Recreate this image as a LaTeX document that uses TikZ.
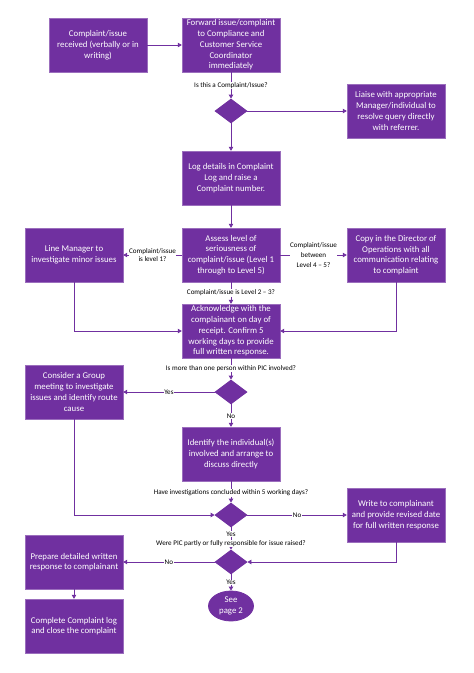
\documentclass[tikz,border=0pt]{standalone}
\usepackage{fontspec}
\setmainfont{Carlito}
\usetikzlibrary{shapes.geometric,arrows.meta}
\definecolor{pic}{HTML}{7030A0}
\begin{document}
\begin{tikzpicture}[x=1pt, y=-1pt, line width=0.8pt,
		stepbox/.style={rectangle, fill=pic, draw=pic!70, line width=0.4pt, minimum width=98pt, minimum height=54pt, inner sep=1pt, align=center, text=white, font=\fontsize{8.8}{10.7}\selectfont},
		choice/.style={diamond, fill=pic, draw=pic, minimum width=32pt, minimum height=24pt, inner sep=0pt},
		flow/.style={draw=pic, -{Triangle[width=4.5pt,length=4pt]}},
		ask/.style={fill=white, inner sep=0.5pt, text=black, align=center, font=\fontsize{7.1}{8.6}\selectfont}]
		\useasboundingbox (0,0) rectangle (474,673);
		\node[stepbox](received) at (98,45){Complaint/issue\\received (verbally or in\\writing)};
		\node[stepbox](forward) at (231,45){Forward issue/complaint\\to Compliance and\\Customer Service\\Coordinator\\immediately};
		\node[choice](isissue) at (231,111){};
		\node[stepbox](liaise) at (396,111){Liaise with appropriate\\Manager/individual to\\resolve query directly\\with referrer.};
		\node[stepbox](logdetails) at (231,178){Log details in Complaint\\Log and raise a\\Complaint number.};
		\node[stepbox](assess) at (231,255){Assess level of\\seriousness of\\complaint/issue (Level 1\\through to Level 5)};
		\node[stepbox](linemanager) at (74,255){Line Manager to\\investigate minor issues};
		\node[stepbox](director) at (396,255){Copy in the Director of\\Operations with all\\communication relating\\to complaint};
		\node[stepbox](acknowledge) at (231,331){Acknowledge with the\\complainant on day of\\receipt. Confirm 5\\working days to provide\\full written response.};
		\node[choice](morethanone) at (231,392){};
		\node[stepbox](group) at (74,392){Consider a Group\\meeting to investigate\\issues and identify route\\cause};
		\node[stepbox](identify) at (231,454){Identify the individual(s)\\involved and arrange to\\discuss directly};
		\node[choice](concluded) at (231,515){};
		\node[stepbox](revised) at (396,515){Write to complainant\\and provide revised date\\for full written response};
		\node[choice](responsible) at (231,562){};
		\node[stepbox](prepare) at (74,562){Prepare detailed written\\response to complainant};
		\node[ellipse, fill=pic, draw=pic, minimum width=45pt, minimum height=30pt, inner sep=0pt, align=center, text=white, font=\fontsize{8.8}{10.7}\selectfont](pagetwo) at (231,606){See\\page 2};
		\node[stepbox](close) at (74,626){Complete Complaint log\\and close the complaint};

		\draw [flow] (received.east) -- (forward.west);
		\draw [flow] (forward.south) -- node[ask, pos=0.52]{Is this a Complaint/Issue?}(isissue.north);
		\draw [flow] (isissue.east) -- (liaise.west);
		\draw [flow] (isissue.south) -- (logdetails.north);
		\draw [flow] (logdetails.south) -- (assess.north);
		\draw [flow] (assess.west) -- node[ask]{Complaint/issue\\is level 1?}(linemanager.east);
		\draw [flow] (assess.east) -- node[ask, font=\fontsize{7.1}{9.6}\selectfont]{Complaint/issue\\between\\Level 4 -- 5?}(director.west);
		\draw [flow] (assess.south) -- node[ask]{Complaint/issue is Level 2 -- 3?}(acknowledge.north);
		\draw [flow] (linemanager.south) |- (acknowledge.west);
		\draw [flow] (director.south) |- (acknowledge.east);
		\draw [flow] (acknowledge.south) -- node[ask]{Is more than one person within PIC involved?}(morethanone.north);
		\draw [flow] (morethanone.west) -- node[ask]{Yes}(group.east);
		\draw [flow] (morethanone.south) -- node[ask, pos=0.52]{No}(identify.north);
		\draw [flow] (identify.south) -- node[ask, pos=0.55]{Have investigations concluded within 5 working days?}(concluded.north);
		\draw [flow] (group.south) |- (concluded.west);
		\draw [flow] (concluded.east) -- node[ask]{No}(revised.west);
		\draw [flow] (concluded.south) -- node[ask, pos=0.3]{Yes} node[ask, pos=0.72]{Were PIC partly or fully responsible for issue raised?}(responsible.north);
		\draw [flow] (revised.south) |- (responsible.east);
		\draw [flow] (responsible.west) -- node[ask]{No}(prepare.east);
		\draw [flow] (responsible.south) -- node[ask, pos=0.5]{Yes}(pagetwo.north);
		\draw [flow] (prepare.south) -- (close.north);
	\end{tikzpicture}
\end{document}
